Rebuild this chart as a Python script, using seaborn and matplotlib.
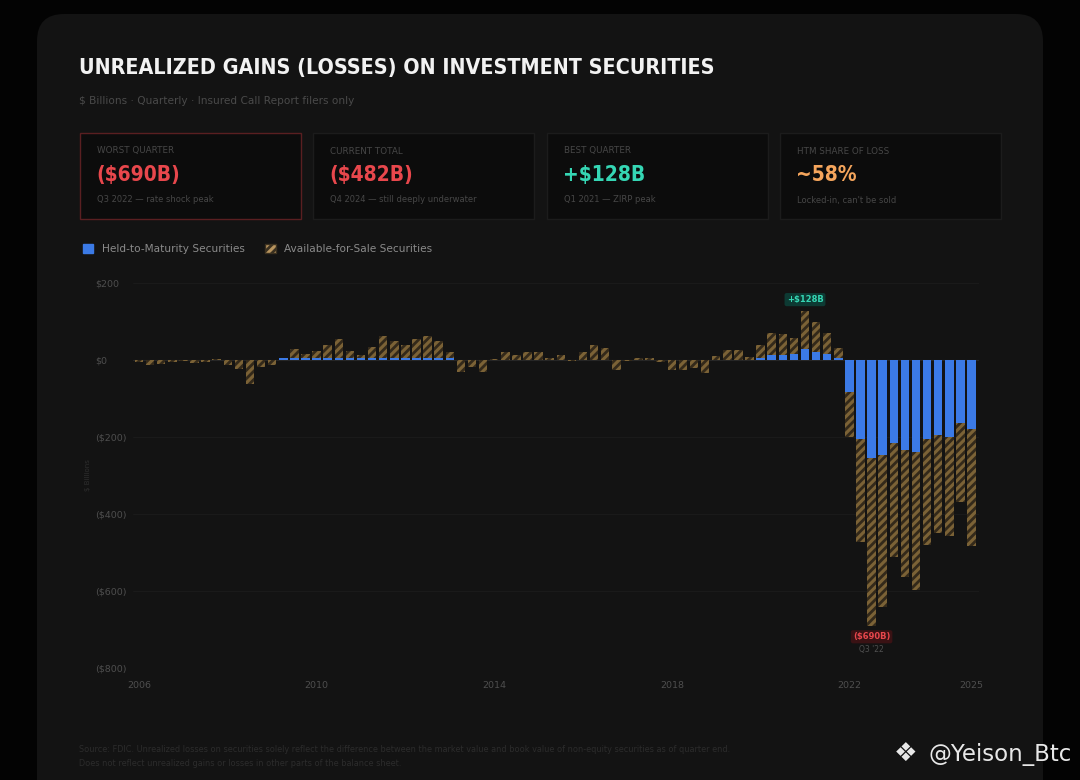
import numpy as np
import pandas as pd
import matplotlib
matplotlib.use("Agg")
import matplotlib.pyplot as plt
import seaborn as sns
from matplotlib.patches import FancyBboxPatch, Patch, Rectangle

# quarterly series, Q1 2006 .. Q4 2024 ($ billions)
years = list(range(2006, 2025))
quarters = [f"{y} Q{q}" for y in years for q in range(1, 5)]

htm = [0, 0, 0, 0, 0, 0, 0, 0, 0, 0, 0, 0, 0, 4, 5, 5,
       5, 6, 6, 6, 6, 6, 6, 6, 6, 6, 6, 5, 4, 0, 0, 0,
       0, 0, 0, 0, 0, 0, 0, 0, 0, 0, 0, 0, 0, 0, 0, 0,
       0, 0, 0, 0, 0, 0, 0, 0, 5, 13, 13, 16, 28, 22, 16, 5,
       -82, -206, -255, -247, -216, -234, -238, -206, -195, -199, -164, -180]
afs = [-5, -12, -10, -4, -3, -8, -4, 3, -14, -24, -62, -18, -14, 2, 23, 11,
       18, 33, 49, 18, 7, 27, 56, 44, 33, 49, 56, 45, 18, -32, -19, -30,
       3, 22, 14, 22, 22, 5, 12, -3, 22, 40, 30, -26, -3, 5, 5, -4,
       -26, -26, -20, -35, 10, 25, 25, 8, 35, 58, 55, 41, 100, 77, 53, 25,
       -119, -266, -435, -394, -295, -329, -359, -274, -254, -258, -204, -302]

ytick_vals = [200, 0, -200, -400, -600, -800]
xtick_labels = ["2006", "2010", "2014", "2018", "2022", "2025"]
xtick_pos = [0, 16, 32, 48, 64, 75]

kpi_labels = ["WORST QUARTER", "CURRENT TOTAL", "BEST QUARTER", "HTM SHARE OF LOSS"]
kpi_values = ["($690B)", "($482B)", "+$128B", "~58%"]
kpi_notes = ["Q3 2022 \u2014 rate shock peak", "Q4 2024 \u2014 still deeply underwater",
             "Q1 2021 \u2014 ZIRP peak", "Locked-in, can't be sold"]
kpi_colors = ["#e8474c", "#e8474c", "#35d6b4", "#f5a55c"]

df = pd.DataFrame({"quarter": quarters, "htm": htm, "afs": afs})
df["total"] = df["htm"] + df["afs"]

BG = "#131313"
BLUE = "#3b7ae6"
GOLD = "#7b6236"
HATCH = "#33291a"

sns.set_style("dark")
plt.rcParams["font.family"] = ["DejaVu Sans"]
plt.rcParams["hatch.linewidth"] = 2.0

fig = plt.figure(figsize=(10.8, 7.8), dpi=100, facecolor="#030303")

# rounded card behind everything
card = FancyBboxPatch((37 / 1080, -0.05), (1043 - 37) / 1080, 1.05 - 14 / 780,
                      boxstyle="round,pad=0,rounding_size=0.025",
                      transform=fig.transFigure, facecolor=BG, edgecolor="none",
                      zorder=-10, mutation_aspect=1080 / 780)
fig.patches.append(card)

fig.text(79 / 1080, 1 - 68 / 780, "UNREALIZED GAINS (LOSSES) ON INVESTMENT SECURITIES",
         family="DejaVu Sans", stretch="condensed", weight="bold", size=15.4,
         color="#f2f2f2", va="center")
fig.text(79 / 1080, 1 - 101 / 780,
         "$ Billions \u00b7 Quarterly \u00b7 Insured Call Report filers only",
         size=7.6, color="#4a4a4a", va="center")

# KPI cards
card_x = [80, 313, 547, 780]
for i, x0 in enumerate(card_x):
    edge = "#5a1f21" if i == 0 else "#1c1c1c"
    box = Rectangle((x0 / 1080, 1 - 219 / 780), 221 / 1080, 86 / 780,
                    transform=fig.transFigure, facecolor="#0c0c0c",
                    edgecolor=edge, linewidth=1, zorder=-5)
    fig.patches.append(box)
    fig.text((x0 + 17) / 1080, 1 - 151 / 780, kpi_labels[i], size=6.3,
             color="#474747", va="center")
    fig.text((x0 + 16) / 1080, 1 - 175 / 780, kpi_values[i], family="DejaVu Sans",
             stretch="condensed", weight="bold", size=15, color=kpi_colors[i],
             va="center")
    fig.text((x0 + 17) / 1080, 1 - 200 / 780, kpi_notes[i], size=6,
             color="#474747", va="center")

# chart
xmin, xmax = -0.55, 75.7
px_per_bar = 11.1
left = 139 + xmin * px_per_bar
right = 139 + xmax * px_per_bar
ax = fig.add_axes([left / 1080, 1 - 668 / 780, (right - left) / 1080, (668 - 283) / 780])
ax.set_facecolor("none")

sns.barplot(data=df, x="quarter", y="total", ax=ax, color=GOLD, saturation=1,
            errorbar=None, width=0.76, hatch="////", edgecolor=HATCH,
            linewidth=0, zorder=2)
sns.barplot(data=df, x="quarter", y="htm", ax=ax, color=BLUE, saturation=1,
            errorbar=None, width=0.76, linewidth=0, zorder=3)

ax.set_xlim(xmin, xmax)
ax.set_ylim(-800, 200)
ax.set_yticks(ytick_vals)
ax.set_yticklabels([f"${v}" if v >= 0 else f"(${-v})" for v in ytick_vals])
ax.set_xticks(xtick_pos)
ax.set_xticklabels(xtick_labels)
ax.tick_params(axis="both", length=0, labelsize=6.8, labelcolor="#4e4e4e")
ax.tick_params(axis="x", pad=9)
for lab in ax.get_yticklabels():
    lab.set_horizontalalignment("left")
    lab.set_x(-0.045 + 5 / 846)
ax.grid(axis="y", color="#1c1c1c", linewidth=0.6)
ax.grid(axis="x", visible=False)
ax.axhline(0, color="#262626", linewidth=0.8, zorder=1)
for s in ax.spines.values():
    s.set_visible(False)
ax.set_xlabel("")
ax.set_ylabel("$ Billions", size=5, color="#2e2e2e")
ax.yaxis.set_label_coords(-0.05, 0.5)

# callouts
best = int(np.argmax(df["total"]))
worst = int(np.argmin(df["total"]))
ax.annotate("+$128B", (best, df["total"][best]), xytext=(0, 8),
            textcoords="offset points", ha="center", va="center", size=6,
            weight="bold", color="#35d6b4", zorder=5,
            bbox=dict(boxstyle="round,pad=0.25", fc="#0d3a33", ec="none"))
ax.annotate("($690B)", (worst, df["total"][worst]), xytext=(0, -8),
            textcoords="offset points", ha="center", va="center", size=6,
            weight="bold", color="#e8474c", zorder=5,
            bbox=dict(boxstyle="round,pad=0.25", fc="#3a1214", ec="none"))
ax.annotate("Q3 '22", (worst, df["total"][worst]), xytext=(0, -17),
            textcoords="offset points", ha="center", va="center", size=5.5,
            color="#505050", zorder=5)

# legend
handles = [Patch(facecolor=BLUE, edgecolor=BLUE, label="Held-to-Maturity Securities"),
           Patch(facecolor="#b8945e", edgecolor="#3a3020", hatch="////",
                 label="Available-for-Sale Securities")]
fig.legend(handles=handles, loc="center left", bbox_to_anchor=(73 / 1080, 1 - 249 / 780),
           ncol=2, frameon=False, fontsize=7.6, labelcolor="#8a8a8a",
           handlelength=1.0, handleheight=1.0, columnspacing=2.0, handletextpad=0.8)

fig.text(79 / 1080, 1 - 749 / 780,
         "Source: FDIC. Unrealized losses on securities solely reflect the difference between "
         "the market value and book value of non-equity securities as of quarter end.",
         size=5.9, color="#2c2c2c", va="center")
fig.text(79 / 1080, 1 - 763 / 780,
         "Does not reflect unrealized gains or losses in other parts of the balance sheet.",
         size=5.9, color="#2c2c2c", va="center")

fig.text(906 / 1080, 1 - 754 / 780, "\u2756", size=19, color="#e8e8e8",
         ha="center", va="center")
fig.text(1072 / 1080, 1 - 754 / 780, "@Yeison_Btc", size=16.5, color="#e8e8e8",
         ha="right", va="center")

fig.savefig("out.png", dpi=100, facecolor=fig.get_facecolor())
